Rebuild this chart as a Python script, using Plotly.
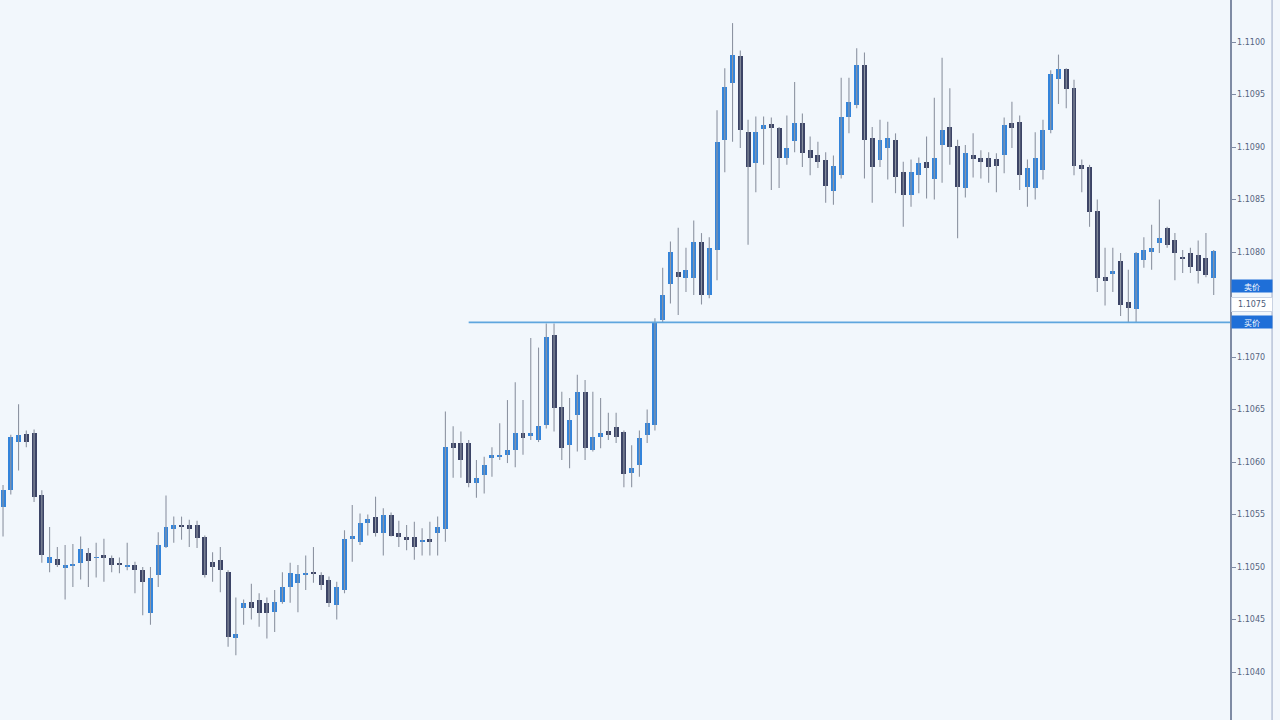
import plotly.graph_objects as go

# ---- data ----
opens = [1.10557, 1.10573, 1.10619, 1.10627, 1.10628, 1.10569, 1.10504, 1.10508, 1.10499, 1.10501,
         1.10504, 1.10513, 1.10509, 1.10511, 1.10509, 1.10504, 1.10500, 1.10502, 1.10497, 1.10456,
         1.10492, 1.10519, 1.10536, 1.10540, 1.10540, 1.10540, 1.10529, 1.10505, 1.10507, 1.10495,
         1.10432, 1.10461, 1.10467, 1.10469, 1.10466, 1.10457, 1.10467, 1.10481, 1.10485, 1.10492,
         1.10495, 1.10492, 1.10488, 1.10464, 1.10478, 1.10527, 1.10524, 1.10542, 1.10548, 1.10532,
         1.10550, 1.10532, 1.10529, 1.10529, 1.10524, 1.10527, 1.10532, 1.10536, 1.10618, 1.10618,
         1.10618, 1.10580, 1.10588, 1.10604, 1.10605, 1.10607, 1.10611, 1.10628, 1.10625, 1.10621,
         1.10635, 1.10721, 1.10652, 1.10616, 1.10645, 1.10667, 1.10611, 1.10624, 1.10630, 1.10633,
         1.10629, 1.10590, 1.10597, 1.10626, 1.10635, 1.10735, 1.10770, 1.10781, 1.10775, 1.10775,
         1.10810, 1.10759, 1.10802, 1.10907, 1.10961, 1.10987, 1.10914, 1.10885, 1.10917, 1.10922,
         1.10918, 1.10890, 1.10906, 1.10923, 1.10897, 1.10892, 1.10888, 1.10858, 1.10873, 1.10929,
         1.10940, 1.10978, 1.10909, 1.10888, 1.10899, 1.10907, 1.10876, 1.10854, 1.10873, 1.10886,
         1.10870, 1.10902, 1.10919, 1.10901, 1.10861, 1.10892, 1.10890, 1.10890, 1.10889, 1.10892,
         1.10923, 1.10924, 1.10862, 1.10861, 1.10878, 1.10916, 1.10965, 1.10974, 1.10956, 1.10883,
         1.10881, 1.10839, 1.10776, 1.10779, 1.10791, 1.10752, 1.10746, 1.10792, 1.10800, 1.10809,
         1.10823, 1.10811, 1.10795, 1.10799, 1.10797, 1.10794, 1.10775]
highs = [1.10578, 1.10626, 1.10655, 1.10630, 1.10631, 1.10573, 1.10538, 1.10519, 1.10521, 1.10522,
         1.10529, 1.10518, 1.10523, 1.10527, 1.10511, 1.10509, 1.10523, 1.10505, 1.10500, 1.10500,
         1.10533, 1.10568, 1.10548, 1.10548, 1.10545, 1.10544, 1.10530, 1.10514, 1.10519, 1.10497,
         1.10471, 1.10469, 1.10484, 1.10475, 1.10471, 1.10478, 1.10495, 1.10504, 1.10502, 1.10511,
         1.10519, 1.10495, 1.10491, 1.10486, 1.10535, 1.10559, 1.10551, 1.10550, 1.10567, 1.10556,
         1.10552, 1.10544, 1.10540, 1.10543, 1.10537, 1.10543, 1.10548, 1.10648, 1.10634, 1.10629,
         1.10621, 1.10602, 1.10605, 1.10614, 1.10637, 1.10659, 1.10676, 1.10659, 1.10718, 1.10709,
         1.10732, 1.10732, 1.10667, 1.10661, 1.10683, 1.10678, 1.10667, 1.10661, 1.10647, 1.10647,
         1.10630, 1.10616, 1.10630, 1.10650, 1.10737, 1.10785, 1.10810, 1.10823, 1.10804, 1.10830,
         1.10818, 1.10814, 1.10935, 1.10975, 1.11018, 1.10992, 1.10926, 1.10929, 1.10929, 1.10928,
         1.10919, 1.10930, 1.10962, 1.10932, 1.10910, 1.10905, 1.10895, 1.10892, 1.10966, 1.10966,
         1.10994, 1.10990, 1.10919, 1.10926, 1.10924, 1.10913, 1.10886, 1.10888, 1.10890, 1.10910,
         1.10947, 1.10985, 1.10956, 1.10907, 1.10902, 1.10913, 1.10897, 1.10895, 1.10894, 1.10928,
         1.10943, 1.10930, 1.10888, 1.10914, 1.10926, 1.10973, 1.10988, 1.10975, 1.10964, 1.10888,
         1.10883, 1.10850, 1.10804, 1.10804, 1.10799, 1.10783, 1.10800, 1.10814, 1.10826, 1.10850,
         1.10824, 1.10818, 1.10802, 1.10804, 1.10811, 1.10818, 1.10802]
lows = [1.10529, 1.10569, 1.10592, 1.10614, 1.10562, 1.10504, 1.10495, 1.10500, 1.10469, 1.10481,
        1.10488, 1.10481, 1.10490, 1.10486, 1.10495, 1.10494, 1.10497, 1.10475, 1.10454, 1.10445,
        1.10481, 1.10518, 1.10523, 1.10526, 1.10519, 1.10518, 1.10490, 1.10486, 1.10476, 1.10424,
        1.10416, 1.10445, 1.10450, 1.10443, 1.10432, 1.10438, 1.10465, 1.10466, 1.10457, 1.10478,
        1.10485, 1.10478, 1.10462, 1.10450, 1.10475, 1.10505, 1.10521, 1.10530, 1.10529, 1.10511,
        1.10529, 1.10519, 1.10516, 1.10507, 1.10511, 1.10511, 1.10511, 1.10524, 1.10585, 1.10585,
        1.10576, 1.10566, 1.10570, 1.10586, 1.10602, 1.10599, 1.10595, 1.10607, 1.10621, 1.10619,
        1.10632, 1.10629, 1.10602, 1.10594, 1.10610, 1.10602, 1.10610, 1.10613, 1.10621, 1.10618,
        1.10576, 1.10576, 1.10586, 1.10618, 1.10630, 1.10733, 1.10751, 1.10740, 1.10762, 1.10759,
        1.10750, 1.10756, 1.10773, 1.10876, 1.10905, 1.10899, 1.10807, 1.10857, 1.10883, 1.10859,
        1.10861, 1.10883, 1.10895, 1.10881, 1.10873, 1.10880, 1.10847, 1.10845, 1.10870, 1.10913,
        1.10937, 1.10870, 1.10847, 1.10881, 1.10869, 1.10856, 1.10824, 1.10843, 1.10856, 1.10851,
        1.10850, 1.10866, 1.10883, 1.10813, 1.10852, 1.10871, 1.10870, 1.10866, 1.10857, 1.10875,
        1.10899, 1.10859, 1.10843, 1.10850, 1.10869, 1.10913, 1.10941, 1.10937, 1.10873, 1.10857,
        1.10824, 1.10762, 1.10749, 1.10762, 1.10739, 1.10733, 1.10733, 1.10785, 1.10783, 1.10799,
        1.10804, 1.10773, 1.10780, 1.10780, 1.10770, 1.10776, 1.10759]
closes = [1.10573, 1.10624, 1.10626, 1.10619, 1.10567, 1.10511, 1.10510, 1.10502, 1.10502, 1.10503,
          1.10517, 1.10506, 1.10510, 1.10509, 1.10502, 1.10502, 1.10502, 1.10497, 1.10486, 1.10490,
          1.10521, 1.10538, 1.10540, 1.10538, 1.10536, 1.10528, 1.10492, 1.10500, 1.10497, 1.10433,
          1.10436, 1.10466, 1.10461, 1.10456, 1.10456, 1.10467, 1.10481, 1.10494, 1.10493, 1.10494,
          1.10493, 1.10483, 1.10466, 1.10481, 1.10527, 1.10530, 1.10542, 1.10546, 1.10532, 1.10550,
          1.10530, 1.10529, 1.10526, 1.10519, 1.10526, 1.10524, 1.10538, 1.10614, 1.10613, 1.10602,
          1.10580, 1.10585, 1.10597, 1.10607, 1.10607, 1.10611, 1.10628, 1.10623, 1.10628, 1.10634,
          1.10719, 1.10651, 1.10613, 1.10640, 1.10667, 1.10613, 1.10624, 1.10628, 1.10626, 1.10624,
          1.10589, 1.10594, 1.10623, 1.10637, 1.10733, 1.10759, 1.10800, 1.10776, 1.10783, 1.10810,
          1.10759, 1.10804, 1.10905, 1.10957, 1.10988, 1.10916, 1.10881, 1.10914, 1.10921, 1.10918,
          1.10890, 1.10899, 1.10923, 1.10894, 1.10890, 1.10886, 1.10863, 1.10882, 1.10929, 1.10943,
          1.10978, 1.10907, 1.10881, 1.10907, 1.10909, 1.10871, 1.10854, 1.10876, 1.10885, 1.10880,
          1.10890, 1.10916, 1.10900, 1.10862, 1.10894, 1.10889, 1.10886, 1.10881, 1.10882, 1.10921,
          1.10918, 1.10873, 1.10880, 1.10890, 1.10916, 1.10970, 1.10974, 1.10955, 1.10882, 1.10879,
          1.10838, 1.10775, 1.10772, 1.10782, 1.10750, 1.10747, 1.10799, 1.10802, 1.10804, 1.10813,
          1.10807, 1.10799, 1.10793, 1.10786, 1.10782, 1.10778, 1.10801]

tick_values = [1.1100, 1.1095, 1.1090, 1.1085, 1.1080, 1.1070, 1.1065, 1.1060, 1.1055, 1.1050, 1.1045, 1.1040]
tick_labels = ["1.1100", "1.1095", "1.1090", "1.1085", "1.1080", "1.1070", "1.1065", "1.1060",
               "1.1055", "1.1050", "1.1045", "1.1040"]

level_price = 1.10733     # horizontal support/resistance level
level_start = 60          # candle index where the level line starts
sell_price = 1.10768
sell_label = "卖价"
mid_price = 1.1075
mid_label = "1.1075"
buy_label = "买价"

# ---- styling ----
BG = "#f2f7fc"
UP = "#3384db"
DOWN = "#3c4466"
WICK = "#8d94a2"

idx = list(range(len(opens)))
bases = [min(o, c) for o, c in zip(opens, closes)]
heights = [abs(c - o) for o, c in zip(opens, closes)]
colors = [UP if c >= o else DOWN for o, c in zip(opens, closes)]

wx, wy = [], []
for i, h, l in zip(idx, highs, lows):
    wx += [i, i, None]
    wy += [l, h, None]

fig = go.Figure()
fig.add_trace(go.Scatter(x=wx, y=wy, mode="lines",
                         line=dict(color=WICK, width=1.1),
                         hoverinfo="skip", showlegend=False))
fig.add_trace(go.Bar(x=idx, y=heights, base=bases, width=0.64,
                     marker=dict(color=colors, line=dict(width=0)),
                     hoverinfo="skip", showlegend=False))

x_lo, x_hi = -0.39, 158.1
y_lo, y_hi = 1.103543, 1.110400

fig.add_shape(type="line", xref="x", yref="y", x0=level_start, x1=x_hi,
              y0=level_price, y1=level_price, line=dict(color="#5fa6de", width=1.6))
# right border of the price scale
fig.add_shape(type="line", xref="paper", yref="paper", x0=1.0342, x1=1.0342, y0=0, y1=1,
              line=dict(color="#aab7cf", width=1.2))

badge_font = dict(family="Noto Sans CJK SC, DejaVu Sans", size=8, color="white")
fig.add_annotation(x=1, xref="paper", xanchor="left", xshift=1, y=sell_price, yref="y",
                   text=sell_label, showarrow=False, bgcolor="#1f6fd8", width=38, height=10,
                   font=badge_font, borderpad=1)
fig.add_annotation(x=1, xref="paper", xanchor="left", xshift=1, y=mid_price, yref="y",
                   text=mid_label, showarrow=False, bgcolor="white", width=38, height=11,
                   bordercolor="#c9d3e3", borderwidth=1,
                   font=dict(family="DejaVu Sans", size=8, color="#4a5a78"), borderpad=1)
fig.add_annotation(x=1, xref="paper", xanchor="left", xshift=1, y=level_price, yref="y",
                   text=buy_label, showarrow=False, bgcolor="#1f6fd8", width=38, height=10,
                   font=badge_font, borderpad=1)

fig.update_layout(
    width=1280, height=720,
    margin=dict(l=0, r=50, t=0, b=0),
    paper_bgcolor=BG, plot_bgcolor=BG,
    showlegend=False, hovermode=False, bargap=0,
    xaxis=dict(range=[x_lo, x_hi], visible=False, showgrid=False, zeroline=False),
    yaxis=dict(range=[y_lo, y_hi], side="right", showgrid=False, zeroline=False,
               showline=True, linecolor="#7f8ba4", linewidth=1.5,
               ticks="outside", ticklen=4, tickcolor="#7f8ba4", tickwidth=1,
               tickvals=tick_values, ticktext=tick_labels,
               tickfont=dict(family="DejaVu Sans", size=8, color="#56647f")),
)

fig.write_html("out.html",
               config={"displayModeBar": False, "staticPlot": True},
               post_script="document.body.style.margin='0';document.body.style.overflow='hidden';"
                           "document.body.style.background='" + BG + "';")
